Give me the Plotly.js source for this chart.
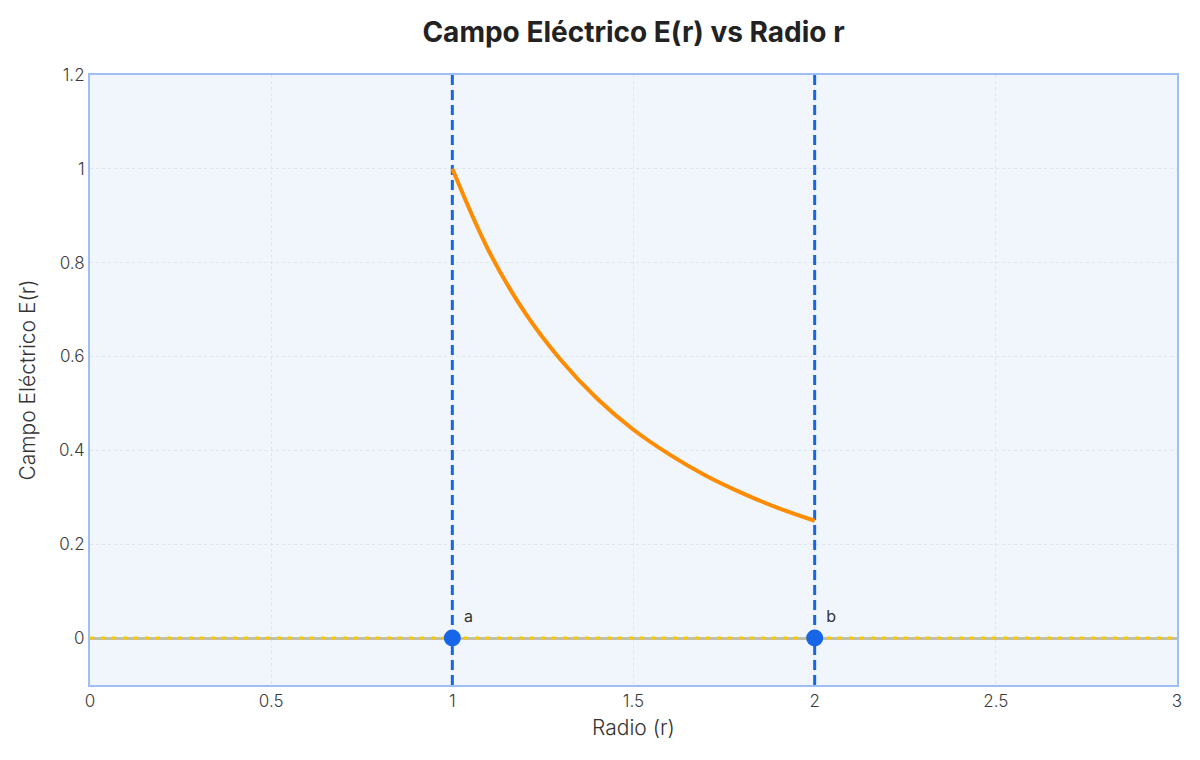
<!DOCTYPE html>
<html>
<head>
<meta charset="utf-8">
<script src="https://cdn.plot.ly/plotly-3.0.1.min.js"></script>
<style>
  html, body { margin: 0; padding: 0; background: #ffffff; }
  #plotDiv { width: 1200px; height: 760px; }
</style>
</head>
<body>
<div id="plotDiv"></div>
<script>
// Campo eléctrico entre dos radios a y b
const radio = [1.0, 1.1, 1.2, 1.3, 1.4, 1.5, 1.6, 1.7, 1.8, 1.9, 2.0];
const campo = [1.0, 0.826, 0.694, 0.592, 0.510, 0.444, 0.391, 0.346, 0.309, 0.277, 0.25];

const limites = [1, 2];
const limitesLabels = ['a', 'b'];

const ejeCero = { x: [0, 3], y: [0, 0] };
const rangoVertical = [-0.1, 1.2];

const FONT = 'Inter, "DejaVu Sans", sans-serif';
const BLUE = '#1766e8';

const traces = [];

// Línea en cero (amarilla discontinua)
traces.push({
    x: ejeCero.x, y: ejeCero.y,
    mode: 'lines', type: 'scatter', showlegend: false, hoverinfo: 'skip',
    line: { color: '#f5c800', width: 3, dash: '4px,7px' },
});

// Líneas verticales en a y b
limites.forEach(r => {
    traces.push({
        x: [r, r], y: rangoVertical,
        mode: 'lines', type: 'scatter', showlegend: false, hoverinfo: 'skip',
        line: { color: BLUE, width: 3, dash: '10px,5px' },
    });
});

// Curva E(r)
traces.push({
    x: radio, y: campo,
    mode: 'lines', type: 'scatter', showlegend: false,
    line: { color: '#ff8c00', width: 4, shape: 'spline' },
});

// Puntos a y b
traces.push({
    x: limites, y: limites.map(() => 0),
    mode: 'markers+text', type: 'scatter', showlegend: false,
    marker: { color: BLUE, size: 17 },
    text: limitesLabels,
    textposition: 'top right',
    textfont: { family: FONT, size: 16, color: '#333333' },
});

const axisCommon = {
    showline: true, mirror: true, linecolor: '#9dbff5', linewidth: 2,
    gridcolor: '#dfe6f1', griddash: 'dot', gridwidth: 1,
    ticks: '', tickfont: { family: FONT, size: 17, color: '#3a3a3a', weight: 300 },
};

const layout = {
    paper_bgcolor: '#ffffff',
    plot_bgcolor: '#f1f6fd',
    font: { family: FONT, color: '#333333' },
    title: { text: '<b>Campo Eléctrico E(r) vs Radio r</b>', xref: 'paper', x: 0.5, xanchor: 'center', y: 0.958, yanchor: 'middle',
             font: { family: FONT, size: 28, color: '#222222' } },
    xaxis: { ...axisCommon, range: [0, 3], dtick: 0.5, zeroline: false,
             title: { text: 'Radio (r)', font: { family: FONT, size: 21, color: '#333333', weight: 300 }, standoff: 10 } },
    yaxis: { ...axisCommon, range: [-0.1, 1.2], dtick: 0.2, zeroline: true, zerolinecolor: '#c3bea6', zerolinewidth: 3,
             title: { text: 'Campo Eléctrico E(r)', font: { family: FONT, size: 21, color: '#333333', weight: 300 }, standoff: 18 } },
    margin: { l: 90, r: 23, t: 75, b: 75 },
};

Plotly.newPlot('plotDiv', traces, layout, { displayModeBar: false, responsive: false });
</script>
</body>
</html>
